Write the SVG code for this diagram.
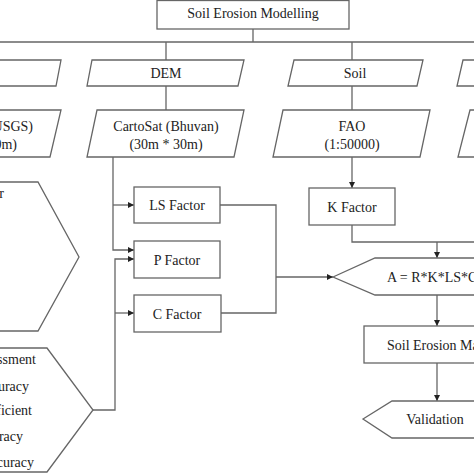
<svg xmlns="http://www.w3.org/2000/svg" width="474" height="474" viewBox="0 0 474 474">
<defs>
<style>
.s{fill:#fff;stroke:#666;stroke-width:1.3}
.c{fill:none;stroke:#666;stroke-width:1.3}
text{font-family:"Liberation Serif","Times New Roman",serif;font-size:14px;fill:#222}
.m{text-anchor:middle}
.e{text-anchor:end}
</style>
<marker id="ah" markerWidth="7" markerHeight="7" refX="6" refY="3" orient="auto" markerUnits="userSpaceOnUse">
<path d="M0,0 L6,3 L0,6 z" fill="#222"/>
</marker>
</defs>
<rect width="474" height="474" fill="#fff"/>
<g id="connectors">
<path class="c" d="M253,29 V42 M0,42 H474 M166,42 V60 M352,42 V60 M166,86 V110 M352,86 V110"/>
<path class="c" d="M352,157 V188" marker-end="url(#ah)"/>
<path class="c" d="M352,225 V242 H474"/>
<path class="c" d="M437,242 V258" marker-end="url(#ah)"/>
<path class="c" d="M113,157 V250 H134" marker-end="url(#ah)"/>
<path class="c" d="M113,205 H134" marker-end="url(#ah)"/>
<path class="c" d="M93,410 H115 V259 H134" marker-end="url(#ah)"/>
<path class="c" d="M115,313 H134" marker-end="url(#ah)"/>
<path class="c" d="M220,205 H276 V313 H221"/>
<path class="c" d="M276,277 H333" marker-end="url(#ah)"/>
<path class="c" d="M437,295 V326" marker-end="url(#ah)"/>
<path class="c" d="M437,363 V401" marker-end="url(#ah)"/>
</g>
<g id="n-top"><rect class="s" x="157" y="0.5" width="192" height="28.5"/><text class="m" x="253" y="18">Soil Erosion Modelling</text></g>
<g id="n-left1"><polygon class="s" points="-60,60 61,60 56,86 -65,86"/></g>
<g id="n-dem"><polygon class="s" points="92,60 244,60 238,86 87,86"/><text class="m" x="166" y="78">DEM</text></g>
<g id="n-soil"><polygon class="s" points="294,60 423,60 417,86 288,86"/><text class="m" x="355" y="78">Soil</text></g>
<g id="n-right1"><polygon class="s" points="463,60 560,60 555,86 457,86"/></g>
<g id="n-left2"><polygon class="s" points="-60,110 61,110 50,157 -70,157"/><text class="e" x="33" y="131">USGS)</text><text class="e" x="17" y="149">0m)</text></g>
<g id="n-cartosat"><polygon class="s" points="97,110 244,110 234,157 87,157"/><text class="m" x="166" y="131">CartoSat (Bhuvan)</text><text class="m" x="166" y="149">(30m * 30m)</text></g>
<g id="n-fao"><polygon class="s" points="283,110 430,110 420,157 273,157"/><text class="m" x="352" y="131">FAO</text><text class="m" x="352" y="149">(1:50000)</text></g>
<g id="n-right2"><polygon class="s" points="470,110 570,110 560,157 458,157"/></g>
<g id="n-k"><rect class="s" x="309" y="188" width="86" height="37"/><text class="m" x="352" y="212">K Factor</text></g>
<g id="n-ls"><rect class="s" x="134" y="187" width="86" height="36"/><text class="m" x="177" y="210">LS Factor</text></g>
<g id="n-p"><rect class="s" x="134" y="241" width="86" height="37"/><text class="m" x="177" y="265">P Factor</text></g>
<g id="n-c"><rect class="s" x="134" y="295" width="87" height="37"/><text class="m" x="177" y="319">C Factor</text></g>
<g id="n-hex1"><polygon class="s" points="-40,182 38,182 79,257 38,331 -40,331"/><text class="e" x="4" y="198">r</text></g>
<g id="n-hex2"><polygon class="s" points="-40,348 47,348 93,410 47,472 -40,472"/>
<text class="e" x="36" y="364">ssment</text>
<text class="e" x="29" y="391">uracy</text>
<text class="e" x="32" y="415">ficient</text>
<text class="e" x="23" y="441">racy</text>
<text class="e" x="34" y="467">curacy</text></g>
<g id="n-eq"><polygon class="s" points="333,277 375,258 520,258 520,295 375,295"/><text x="387" y="282">A = R*K*LS*C</text></g>
<g id="n-map"><rect class="s" x="364" y="326" width="140" height="37"/><text x="387" y="350">Soil Erosion Ma</text></g>
<g id="n-valid"><polygon class="s" points="363,419 392,401 520,401 520,438 392,438"/><text class="m" x="435" y="424">Validation</text></g>
</svg>
